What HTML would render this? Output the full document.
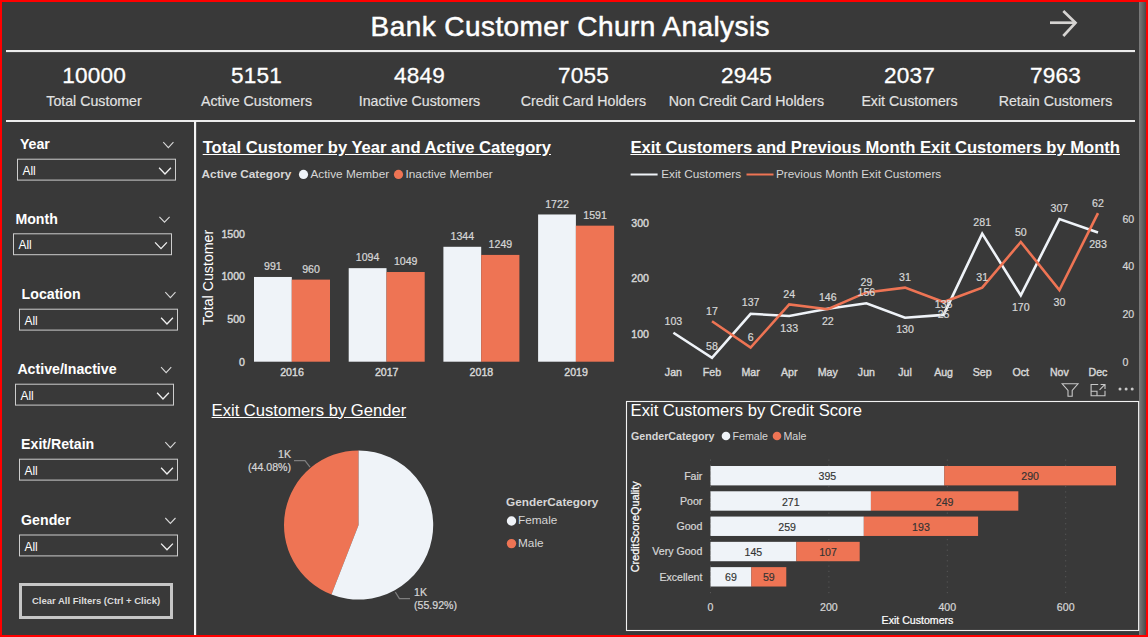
<!DOCTYPE html>
<html><head><meta charset="utf-8"><title>Bank Customer Churn Analysis</title>
<style>
html,body{margin:0;padding:0;}
body{width:1148px;height:637px;overflow:hidden;background:#393939;font-family:"Liberation Sans",sans-serif;position:relative;}
#root{position:absolute;left:0;top:0;width:1148px;height:637px;box-sizing:border-box;border:2px solid #ff0000;background:#393939;overflow:hidden;}
.abs{position:absolute;white-space:nowrap;line-height:1;}
.t{position:absolute;white-space:nowrap;line-height:1;color:#fff;}
.kn{position:absolute;white-space:nowrap;line-height:1;color:#fff;font-size:22.6px;letter-spacing:0.18px;-webkit-text-stroke:0.3px #fff;text-align:center;transform:translateX(-50%);}
.kl{position:absolute;white-space:nowrap;line-height:1;color:#e2e2e2;-webkit-text-stroke:0.15px #e2e2e2;font-size:14.2px;text-align:center;transform:translateX(-50%);}
.sl{position:absolute;white-space:nowrap;line-height:1;color:#fff;font-size:14.16px;font-weight:bold;}
.sb{position:absolute;box-sizing:border-box;border:1px solid #c8c8c8;height:22px;width:159px;}
.sb span{position:absolute;left:4.6px;top:5.2px;font-size:12px;color:#fff;line-height:1;}
svg{position:absolute;left:0;top:0;overflow:visible;}
svg text{font-family:"Liberation Sans",sans-serif;stroke-width:.22px;}
svg text.ax{stroke-width:.42px;}
svg text[fill="#D6D6D6"]{stroke:#D6D6D6;}svg text[fill="#333"]{stroke:#333;stroke-width:.15px}
</style></head><body><div id="root">

<svg width="1148" height="637" viewBox="0 0 1148 637" style="left:-2px;top:-2px">
<defs><linearGradient id="sg" x1="0" x2="1" y1="0" y2="0"><stop offset="0" stop-color="#7c7c7c"/><stop offset="1" stop-color="#4a4a4a"/></linearGradient></defs>
<rect x="1139" y="2" width="7" height="633" fill="url(#sg)"/>
<rect x="6" y="50" width="1129" height="2.1" fill="#ececec"/>
<rect x="6" y="120" width="1129" height="2" fill="#ececec"/>
<rect x="194" y="121" width="2.15" height="514" fill="#f4f4f4"/>
<text x="370.6" y="35.6" font-size="28" fill="#fff" textLength="399" lengthAdjust="spacing" style="stroke:#fff;stroke-width:.5px;">Bank Customer Churn Analysis</text>
<g stroke="#d6d4d2" stroke-width="2.7" fill="none" stroke-linecap="butt" stroke-linejoin="miter"><path d="M1050 22.7H1076"/><path d="M1063.3 11L1075.5 22.8L1063.3 36"/></g>
<path d="M163.25 142.2L168.35 147.6L173.45 142.2" fill="none" stroke="#d8d8d8" stroke-width="1.1"/>
<path d="M159.1 167.8L165 174L170.9 167.8" fill="none" stroke="#f0f0f0" stroke-width="1.3"/>
<rect x="17.5" y="159.2" width="158" height="20.9" fill="none" stroke="#cdcdcd" stroke-width="1"/>
<path d="M159.4 216.8L164.5 222.2L169.6 216.8" fill="none" stroke="#d8d8d8" stroke-width="1.1"/>
<path d="M155.1 242.4L161 248.6L166.9 242.4" fill="none" stroke="#f0f0f0" stroke-width="1.3"/>
<rect x="13.5" y="233.8" width="158" height="20.9" fill="none" stroke="#cdcdcd" stroke-width="1"/>
<path d="M165.3 292.2L170.4 297.6L175.5 292.2" fill="none" stroke="#d8d8d8" stroke-width="1.1"/>
<path d="M161.1 317.8L167 324L172.9 317.8" fill="none" stroke="#f0f0f0" stroke-width="1.3"/>
<rect x="19.5" y="309.2" width="158" height="20.9" fill="none" stroke="#cdcdcd" stroke-width="1"/>
<path d="M161.05 367.2L166.15 372.6L171.25 367.2" fill="none" stroke="#d8d8d8" stroke-width="1.1"/>
<path d="M157.1 392.8L163 399L168.9 392.8" fill="none" stroke="#f0f0f0" stroke-width="1.3"/>
<rect x="15.5" y="384.2" width="158" height="20.9" fill="none" stroke="#cdcdcd" stroke-width="1"/>
<path d="M165.3 442.2L170.4 447.6L175.5 442.2" fill="none" stroke="#d8d8d8" stroke-width="1.1"/>
<path d="M161.1 467.8L167 474L172.9 467.8" fill="none" stroke="#f0f0f0" stroke-width="1.3"/>
<rect x="19.5" y="459.2" width="158" height="20.9" fill="none" stroke="#cdcdcd" stroke-width="1"/>
<path d="M165.3 518L170.4 523.4L175.5 518" fill="none" stroke="#d8d8d8" stroke-width="1.1"/>
<path d="M161.1 543.6L167 549.8L172.9 543.6" fill="none" stroke="#f0f0f0" stroke-width="1.3"/>
<rect x="19.5" y="535" width="158" height="20.9" fill="none" stroke="#cdcdcd" stroke-width="1"/>
<rect x="254" y="276.97" width="37.8" height="84.73" fill="#EFF3F8"/>
<rect x="291.8" y="279.62" width="38.2" height="82.08" fill="#EE7454"/>
<text x="272.9" y="270.27" font-size="10.6" fill="#D6D6D6" text-anchor="middle">991</text>
<text x="311" y="272.92" font-size="10.6" fill="#D6D6D6" text-anchor="middle">960</text>
<text class="ax" x="292" y="376" font-size="10.6" fill="#D6D6D6" text-anchor="middle">2016</text>
<rect x="348.7" y="268.16" width="37.8" height="93.54" fill="#EFF3F8"/>
<rect x="386.5" y="272.01" width="38.2" height="89.69" fill="#EE7454"/>
<text x="367.6" y="261.46" font-size="10.6" fill="#D6D6D6" text-anchor="middle">1094</text>
<text x="405.7" y="265.31" font-size="10.6" fill="#D6D6D6" text-anchor="middle">1049</text>
<text class="ax" x="386.7" y="376" font-size="10.6" fill="#D6D6D6" text-anchor="middle">2017</text>
<rect x="443.4" y="246.79" width="37.8" height="114.91" fill="#EFF3F8"/>
<rect x="481.2" y="254.91" width="38.2" height="106.79" fill="#EE7454"/>
<text x="462.3" y="240.09" font-size="10.6" fill="#D6D6D6" text-anchor="middle">1344</text>
<text x="500.4" y="248.21" font-size="10.6" fill="#D6D6D6" text-anchor="middle">1249</text>
<text class="ax" x="481.4" y="376" font-size="10.6" fill="#D6D6D6" text-anchor="middle">2018</text>
<rect x="538.1" y="214.47" width="37.8" height="147.23" fill="#EFF3F8"/>
<rect x="575.9" y="225.67" width="38.2" height="136.03" fill="#EE7454"/>
<text x="557" y="207.77" font-size="10.6" fill="#D6D6D6" text-anchor="middle">1722</text>
<text x="595.1" y="218.97" font-size="10.6" fill="#D6D6D6" text-anchor="middle">1591</text>
<text class="ax" x="576.1" y="376" font-size="10.6" fill="#D6D6D6" text-anchor="middle">2019</text>
<text class="ax" x="245" y="365.7" font-size="10.6" fill="#D6D6D6" text-anchor="end">0</text>
<text class="ax" x="245" y="322.95" font-size="10.6" fill="#D6D6D6" text-anchor="end">500</text>
<text class="ax" x="245" y="280.2" font-size="10.6" fill="#D6D6D6" text-anchor="end">1000</text>
<text class="ax" x="245" y="238.35" font-size="10.6" fill="#D6D6D6" text-anchor="end">1500</text>
<text transform="translate(213.1 277.5) rotate(-90)" font-size="14.2" fill="#fff" text-anchor="middle">Total Customer</text>
<circle cx="303.5" cy="174.4" r="4.6" fill="#EFF3F8"/><circle cx="398.5" cy="174.4" r="4.6" fill="#EE7454"/>
<polyline fill="none" stroke="#EFF3F8" stroke-width="2.6" stroke-linejoin="miter" points="673.4,332.73 712,357.79 750.6,313.79 789.2,316.02 827.8,308.78 866.4,303.21 905,317.69 943.6,314.9 982.2,233.58 1020.8,295.41 1059.4,219.1 1098,232.47"/>
<polyline fill="none" stroke="#EE7454" stroke-width="2.6" stroke-linejoin="miter" points="712,321.2 750.6,347.6 789.2,304.4 827.8,309.2 866.4,292.4 905,287.6 943.6,302 982.2,287.6 1020.8,242 1059.4,290 1098,213.2"/>
<text class="ax" x="673.4" y="375.6" font-size="10.6" fill="#D6D6D6" text-anchor="middle">Jan</text>
<text class="ax" x="712" y="375.6" font-size="10.6" fill="#D6D6D6" text-anchor="middle">Feb</text>
<text class="ax" x="750.6" y="375.6" font-size="10.6" fill="#D6D6D6" text-anchor="middle">Mar</text>
<text class="ax" x="789.2" y="375.6" font-size="10.6" fill="#D6D6D6" text-anchor="middle">Apr</text>
<text class="ax" x="827.8" y="375.6" font-size="10.6" fill="#D6D6D6" text-anchor="middle">May</text>
<text class="ax" x="866.4" y="375.6" font-size="10.6" fill="#D6D6D6" text-anchor="middle">Jun</text>
<text class="ax" x="905" y="375.6" font-size="10.6" fill="#D6D6D6" text-anchor="middle">Jul</text>
<text class="ax" x="943.6" y="375.6" font-size="10.6" fill="#D6D6D6" text-anchor="middle">Aug</text>
<text class="ax" x="982.2" y="375.6" font-size="10.6" fill="#D6D6D6" text-anchor="middle">Sep</text>
<text class="ax" x="1020.8" y="375.6" font-size="10.6" fill="#D6D6D6" text-anchor="middle">Oct</text>
<text class="ax" x="1059.4" y="375.6" font-size="10.6" fill="#D6D6D6" text-anchor="middle">Nov</text>
<text class="ax" x="1098" y="375.6" font-size="10.6" fill="#D6D6D6" text-anchor="middle">Dec</text>
<text class="ax" x="631.3" y="338.4" font-size="10.6" fill="#D6D6D6">100</text>
<text class="ax" x="631.3" y="281.9" font-size="10.6" fill="#D6D6D6">200</text>
<text class="ax" x="631.3" y="227" font-size="10.6" fill="#D6D6D6">300</text>
<text x="1122.4" y="366" font-size="10.6" fill="#D6D6D6">0</text>
<text x="1122.4" y="318" font-size="10.6" fill="#D6D6D6">20</text>
<text x="1122.4" y="270" font-size="10.6" fill="#D6D6D6">40</text>
<text x="1122.4" y="222.9" font-size="10.6" fill="#D6D6D6">60</text>
<text x="673.4" y="325.33" font-size="10.6" fill="#D6D6D6" text-anchor="middle">103</text>
<text x="712" y="350.39" font-size="10.6" fill="#D6D6D6" text-anchor="middle">58</text>
<text x="750.6" y="306.39" font-size="10.6" fill="#D6D6D6" text-anchor="middle">137</text>
<text x="789.2" y="331.52" font-size="10.6" fill="#D6D6D6" text-anchor="middle">133</text>
<text x="827.8" y="301.38" font-size="10.6" fill="#D6D6D6" text-anchor="middle">146</text>
<text x="866.4" y="295.81" font-size="10.6" fill="#D6D6D6" text-anchor="middle">156</text>
<text x="905" y="333.19" font-size="10.6" fill="#D6D6D6" text-anchor="middle">130</text>
<text x="943.6" y="307.5" font-size="10.6" fill="#D6D6D6" text-anchor="middle">135</text>
<text x="982.2" y="226.18" font-size="10.6" fill="#D6D6D6" text-anchor="middle">281</text>
<text x="1020.8" y="310.91" font-size="10.6" fill="#D6D6D6" text-anchor="middle">170</text>
<text x="1059.4" y="211.7" font-size="10.6" fill="#D6D6D6" text-anchor="middle">307</text>
<text x="1098" y="247.97" font-size="10.6" fill="#D6D6D6" text-anchor="middle">283</text>
<text x="712" y="314.7" font-size="10.6" fill="#D6D6D6" text-anchor="middle">17</text>
<text x="750.6" y="341.1" font-size="10.6" fill="#D6D6D6" text-anchor="middle">6</text>
<text x="789.2" y="297.9" font-size="10.6" fill="#D6D6D6" text-anchor="middle">24</text>
<text x="827.8" y="324.7" font-size="10.6" fill="#D6D6D6" text-anchor="middle">22</text>
<text x="866.4" y="285.9" font-size="10.6" fill="#D6D6D6" text-anchor="middle">29</text>
<text x="905" y="281.1" font-size="10.6" fill="#D6D6D6" text-anchor="middle">31</text>
<text x="943.6" y="317.5" font-size="10.6" fill="#D6D6D6" text-anchor="middle">25</text>
<text x="982.2" y="281.1" font-size="10.6" fill="#D6D6D6" text-anchor="middle">31</text>
<text x="1020.8" y="235.5" font-size="10.6" fill="#D6D6D6" text-anchor="middle">50</text>
<text x="1059.4" y="305.5" font-size="10.6" fill="#D6D6D6" text-anchor="middle">30</text>
<text x="1098" y="206.7" font-size="10.6" fill="#D6D6D6" text-anchor="middle">62</text>
<rect x="630.6" y="173.5" width="27" height="2" fill="#EFF3F8"/><rect x="746.5" y="173.5" width="27" height="2" fill="#EE7454"/>
<path d="M358.6 525L331.49 594.5A74.6 74.6 0 0 1 358.6 450.4Z" fill="#EE7454"/>
<path d="M358.6 525L358.6 450.4A74.6 74.6 0 1 1 331.49 594.5Z" fill="#EFF3F8"/>
<path d="M294 460.7H305L310 467.2" fill="none" stroke="#7e7e7e" stroke-width="1.25"/>
<path d="M395.3 592L399.4 598.5H410" fill="none" stroke="#7e7e7e" stroke-width="1.25"/>
<text x="291" y="458" font-size="10.6" fill="#D6D6D6" text-anchor="end">1K</text><text x="291" y="471" font-size="10.6" fill="#D6D6D6" text-anchor="end">(44.08%)</text>
<text x="414" y="595.6" font-size="10.6" fill="#D6D6D6">1K</text><text x="414" y="609" font-size="10.6" fill="#D6D6D6">(55.92%)</text>
<circle cx="511.5" cy="521" r="4.7" fill="#EFF3F8"/><circle cx="511.5" cy="543.6" r="4.7" fill="#EE7454"/>
<rect x="626.5" y="401.5" width="512.1" height="229" fill="none" stroke="#f2f2f2" stroke-width="1.1"/>
<line x1="710.5" y1="459.5" x2="710.5" y2="594" stroke="#585858" stroke-width="1" stroke-dasharray="1.2 4.1"/>
<text x="710.5" y="611" font-size="10.6" fill="#D6D6D6" text-anchor="middle">0</text>
<line x1="828.9" y1="459.5" x2="828.9" y2="594" stroke="#585858" stroke-width="1" stroke-dasharray="1.2 4.1"/>
<text x="828.9" y="611" font-size="10.6" fill="#D6D6D6" text-anchor="middle">200</text>
<line x1="947.3" y1="459.5" x2="947.3" y2="594" stroke="#585858" stroke-width="1" stroke-dasharray="1.2 4.1"/>
<text x="947.3" y="611" font-size="10.6" fill="#D6D6D6" text-anchor="middle">400</text>
<line x1="1065.7" y1="459.5" x2="1065.7" y2="594" stroke="#585858" stroke-width="1" stroke-dasharray="1.2 4.1"/>
<text x="1065.7" y="611" font-size="10.6" fill="#D6D6D6" text-anchor="middle">600</text>
<rect x="710.5" y="466" width="233.84" height="19.4" fill="#EFF3F8"/>
<rect x="944.34" y="466" width="171.68" height="19.4" fill="#EE7454"/>
<text x="827.42" y="479.7" font-size="10.6" fill="#333" text-anchor="middle">395</text>
<text x="1030.18" y="479.7" font-size="10.6" fill="#333" text-anchor="middle">290</text>
<text x="702.4" y="479.7" font-size="10.6" fill="#D6D6D6" text-anchor="end">Fair</text>
<rect x="710.5" y="491.28" width="160.43" height="19.4" fill="#EFF3F8"/>
<rect x="870.93" y="491.28" width="147.41" height="19.4" fill="#EE7454"/>
<text x="790.72" y="505.78" font-size="10.6" fill="#333" text-anchor="middle">271</text>
<text x="944.64" y="505.78" font-size="10.6" fill="#333" text-anchor="middle">249</text>
<text x="702.4" y="504.98" font-size="10.6" fill="#D6D6D6" text-anchor="end">Poor</text>
<rect x="710.5" y="516.56" width="153.33" height="19.4" fill="#EFF3F8"/>
<rect x="863.83" y="516.56" width="114.26" height="19.4" fill="#EE7454"/>
<text x="787.16" y="531.06" font-size="10.6" fill="#333" text-anchor="middle">259</text>
<text x="920.96" y="531.06" font-size="10.6" fill="#333" text-anchor="middle">193</text>
<text x="702.4" y="530.26" font-size="10.6" fill="#D6D6D6" text-anchor="end">Good</text>
<rect x="710.5" y="541.84" width="85.84" height="19.4" fill="#EFF3F8"/>
<rect x="796.34" y="541.84" width="63.34" height="19.4" fill="#EE7454"/>
<text x="753.42" y="555.94" font-size="10.6" fill="#333" text-anchor="middle">145</text>
<text x="828.01" y="555.94" font-size="10.6" fill="#333" text-anchor="middle">107</text>
<text x="702.4" y="554.64" font-size="10.6" fill="#D6D6D6" text-anchor="end">Very Good</text>
<rect x="710.5" y="567.12" width="40.85" height="19.4" fill="#EFF3F8"/>
<rect x="751.35" y="567.12" width="34.93" height="19.4" fill="#EE7454"/>
<text x="730.92" y="580.82" font-size="10.6" fill="#333" text-anchor="middle">69</text>
<text x="768.81" y="580.82" font-size="10.6" fill="#333" text-anchor="middle">59</text>
<text x="702.4" y="580.82" font-size="10.6" fill="#D6D6D6" text-anchor="end">Excellent</text>
<text transform="translate(638.5 526.8) rotate(-90)" font-size="10.85" fill="#fff" stroke="#fff" stroke-width=".25" text-anchor="middle">CreditScoreQuality</text>
<text x="917.5" y="624" font-size="10.6" fill="#fff" stroke="#fff" stroke-width=".4" text-anchor="middle">Exit Customers</text>
<circle cx="726" cy="436" r="4.3" fill="#EFF3F8"/><circle cx="777" cy="436" r="4.3" fill="#EE7454"/>
<g fill="none" stroke="#c8c8c8" stroke-width="1.1">
<path d="M1062.2 383.8H1078L1072.2 390.4V396.3H1068V390.4Z"/>
<path d="M1098.2 384.5H1091.1V395.7H1105V390.8"/><path d="M1091.1 391.3H1097V395.7"/><path d="M1099.6 389.8L1104.7 384.7M1100.6 384.5H1105V388.9"/>
</g>
<g fill="#c8c8c8"><circle cx="1120" cy="389" r="1.5"/><circle cx="1126.1" cy="389" r="1.5"/><circle cx="1132.2" cy="389" r="1.5"/></g>
</svg>
<div class="kn" style="left:92.1px;top:62.8px;">10000</div>
<div class="kl" style="left:92px;top:92px;">Total Customer</div>
<div class="kn" style="left:254.6px;top:62.8px;">5151</div>
<div class="kl" style="left:254.5px;top:92px;">Active Customers</div>
<div class="kn" style="left:417.6px;top:62.8px;">4849</div>
<div class="kl" style="left:417.5px;top:92px;">Inactive Customers</div>
<div class="kn" style="left:581.6px;top:62.8px;">7055</div>
<div class="kl" style="left:581.5px;top:92px;">Credit Card Holders</div>
<div class="kn" style="left:744.6px;top:62.8px;">2945</div>
<div class="kl" style="left:744.5px;top:92px;">Non Credit Card Holders</div>
<div class="kn" style="left:907.6px;top:62.8px;">2037</div>
<div class="kl" style="left:907.5px;top:92px;">Exit Customers</div>
<div class="kn" style="left:1053.6px;top:62.8px;">7963</div>
<div class="kl" style="left:1053.5px;top:92px;">Retain Customers</div>
<div class="sl" style="left:17.9px;top:135.4px;">Year</div>
<div class="t" style="left:20.4px;top:162.7px;font-size:12px;">All</div>
<div class="sl" style="left:13.4px;top:210px;">Month</div>
<div class="t" style="left:16.4px;top:237.3px;font-size:12px;">All</div>
<div class="sl" style="left:19.6px;top:285.4px;">Location</div>
<div class="t" style="left:22.4px;top:312.7px;font-size:12px;">All</div>
<div class="sl" style="left:15.4px;top:360.4px;">Active/Inactive</div>
<div class="t" style="left:18.4px;top:387.7px;font-size:12px;">All</div>
<div class="sl" style="left:19.1px;top:435.4px;">Exit/Retain</div>
<div class="t" style="left:22.4px;top:462.7px;font-size:12px;">All</div>
<div class="sl" style="left:19.1px;top:511.2px;">Gender</div>
<div class="t" style="left:22.4px;top:538.5px;font-size:12px;">All</div>
<div class="abs" style="left:17px;top:581px;width:154px;height:36px;box-sizing:border-box;border:3px solid #c6c6c6;color:#dcdcdc;font-size:9.5px;font-weight:bold;text-align:center;line-height:30px;">Clear All Filters (Ctrl + Click)</div>
<div class="t" style="left:200.7px;top:138px;font-size:16.6px;font-weight:bold;text-decoration:underline;">Total Customer by Year and Active Category</div>
<div class="t" style="left:628.4px;top:138px;font-size:16.6px;font-weight:bold;text-decoration:underline;">Exit Customers and Previous Month Exit Customers by Month</div>
<div class="t" style="left:209.6px;top:400.6px;font-size:16.6px;text-decoration:underline;">Exit Customers by Gender</div>
<div class="t" style="left:628.6px;top:401px;font-size:16.6px;">Exit Customers by Credit Score</div>
<div class="t" style="left:199.6px;top:166.7px;font-size:11.8px;font-weight:bold;color:#D6D6D6;">Active Category</div>
<div class="t" style="left:308.5px;top:166.7px;font-size:11.8px;color:#D6D6D6;">Active Member</div>
<div class="t" style="left:403.5px;top:166.7px;font-size:11.8px;color:#D6D6D6;">Inactive Member</div>
<div class="t" style="left:659.2px;top:166.7px;font-size:11.8px;color:#D6D6D6;">Exit Customers</div>
<div class="t" style="left:774px;top:166.7px;font-size:11.8px;color:#D6D6D6;">Previous Month Exit Customers</div>
<div class="t" style="left:504px;top:494.5px;font-size:11.8px;font-weight:bold;color:#D6D6D6;">GenderCategory</div>
<div class="t" style="left:516px;top:512.5px;font-size:11.8px;color:#D6D6D6;">Female</div>
<div class="t" style="left:516px;top:535.5px;font-size:11.8px;color:#D6D6D6;">Male</div>
<div class="t" style="left:629px;top:428.5px;font-size:10.67px;font-weight:bold;color:#D6D6D6;">GenderCategory</div>
<div class="t" style="left:730.5px;top:428.5px;font-size:10.67px;color:#D6D6D6;">Female</div>
<div class="t" style="left:781.4px;top:428.5px;font-size:10.67px;color:#D6D6D6;">Male</div>
</div></body></html>
